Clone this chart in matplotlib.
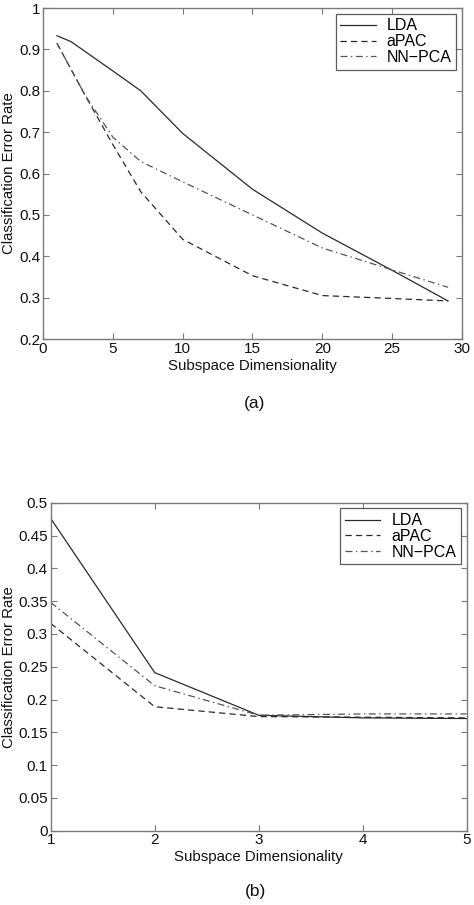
import matplotlib
matplotlib.use("Agg")
import matplotlib.pyplot as plt

plt.rcParams['font.family'] = ['Liberation Sans', 'DejaVu Sans']
plt.rcParams['lines.scale_dashes'] = False

# Panel (a)
xa_lda = [1, 2, 5, 7, 10, 15, 20, 25, 29]
ya_lda = [0.933, 0.919, 0.848, 0.800, 0.697, 0.562, 0.456, 0.366, 0.292]
xa_apac = [1, 3, 5, 7, 10, 15, 20, 25, 29]
ya_apac = [0.915, 0.790, 0.670, 0.556, 0.441, 0.353, 0.305, 0.298, 0.292]
xa_nn = [1, 3, 5, 7, 10, 15, 20, 25, 29]
ya_nn = [0.915, 0.790, 0.688, 0.629, 0.580, 0.500, 0.420, 0.367, 0.325]

# Panel (b)
xb = [1, 2, 3, 4, 5]
yb_lda = [0.476, 0.241, 0.176, 0.172, 0.171]
yb_apac = [0.316, 0.189, 0.174, 0.173, 0.172]
yb_nn = [0.348, 0.221, 0.176, 0.178, 0.178]

labels = ['LDA', 'aPAC', 'NN\u2212PCA']
xlabel = 'Subspace Dimensionality'
ylabel = 'Classification Error Rate'

fig = plt.figure(figsize=(4.74, 9.05), dpi=100)
ax1 = fig.add_axes([0.0907, 0.6254, 0.884, 0.3657])
ax2 = fig.add_axes([0.107, 0.0821, 0.8776, 0.3624])

lc = '#2a2a2a'
lw = 0.9
styles = dict(
    lda=dict(color=lc, lw=lw, linestyle='-'),
    apac=dict(color=lc, lw=lw, linestyle=(0, (4.5, 3.0))),
    nn=dict(color='#555555', lw=lw, linestyle=(0, (5, 2.5, 1, 2.5))),
)

def style_ax(ax):
    for s in ax.spines.values():
        s.set_color('#7a7a7a')
        s.set_linewidth(1.0)
    ax.tick_params(direction='in', top=True, right=True, length=4, width=0.8,
                   color='#7a7a7a', labelsize=11, pad=2, labelcolor='#111111')
    ax.set_xlabel(xlabel, fontsize=10.8, labelpad=2, color='#111111')
    ax.set_ylabel(ylabel, fontsize=10.8, labelpad=2, color='#111111')

ax1.plot(xa_lda, ya_lda, label=labels[0], **styles['lda'])
ax1.plot(xa_apac, ya_apac, label=labels[1], **styles['apac'])
ax1.plot(xa_nn, ya_nn, label=labels[2], **styles['nn'])
ax1.set_xlim(0, 30)
ax1.set_ylim(0.2, 1.0)
ax1.set_xticks([0, 5, 10, 15, 20, 25, 30])
ax1.set_yticks([0.2, 0.3, 0.4, 0.5, 0.6, 0.7, 0.8, 0.9, 1.0])
ax1.set_yticklabels(['0.2', '0.3', '0.4', '0.5', '0.6', '0.7', '0.8', '0.9', '1'])
style_ax(ax1)

ax2.plot(xb, yb_lda, label=labels[0], **styles['lda'])
ax2.plot(xb, yb_apac, label=labels[1], **styles['apac'])
ax2.plot(xb, yb_nn, label=labels[2], **styles['nn'])
ax2.set_xlim(1, 5)
ax2.set_ylim(0, 0.5)
ax2.set_xticks([1, 2, 3, 4, 5])
ax2.set_yticks([0, 0.05, 0.1, 0.15, 0.2, 0.25, 0.3, 0.35, 0.4, 0.45, 0.5])
ax2.set_yticklabels(['0', '0.05', '0.1', '0.15', '0.2', '0.25', '0.3', '0.35', '0.4', '0.45', '0.5'])
style_ax(ax2)

for ax in (ax1, ax2):
    leg = ax.legend(loc='upper right', fontsize=11.5, frameon=True, fancybox=False,
                    edgecolor='#333333', borderpad=0.3, labelspacing=0.05,
                    handlelength=2.2, handletextpad=0.7, borderaxespad=0.35)
    leg.get_frame().set_linewidth(0.9)

fig.text(0.538, 1 - 403 / 905, '(a)', ha='center', va='center', fontsize=12.5, color='#111111')
fig.text(0.538, 1 - 891 / 905, '(b)', ha='center', va='center', fontsize=12.5, color='#111111')

fig.savefig('out.png', dpi=100)
